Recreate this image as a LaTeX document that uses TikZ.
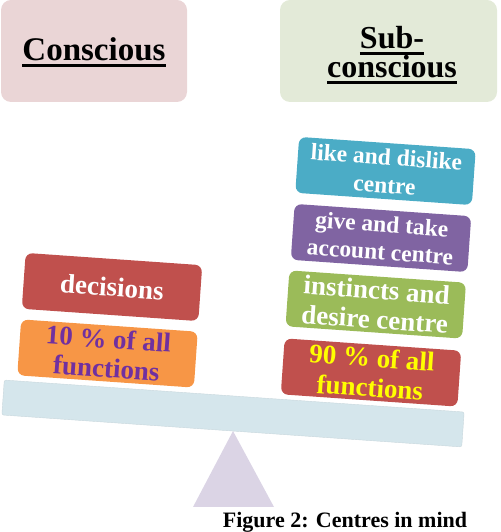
\documentclass[tikz,border=0pt]{standalone}
\usepackage{fontspec}
\setmainfont{Liberation Serif}
\definecolor{conscfill}{HTML}{EAD5D6}
\definecolor{subfill}{HTML}{E3EAD8}
\definecolor{beamfill}{HTML}{D5E6EC}
\definecolor{trifill}{HTML}{DBD4E5}
\definecolor{redbox}{HTML}{C0504D}
\definecolor{orangebox}{HTML}{F79646}
\definecolor{bluebox}{HTML}{4BACC6}
\definecolor{purplebox}{HTML}{8064A2}
\definecolor{greenbox}{HTML}{9BBB59}
\definecolor{purpletext}{HTML}{7030A0}
\definecolor{yellowtext}{HTML}{FFFF00}
\newcommand\myul[1]{\setbox0\hbox{#1}\rlap{\raisebox{-6.5pt}{\rule{\wd0}{3pt}}}\box0}
\tikzset{
  headbox/.style={rounded corners=10pt, inner sep=0pt, minimum height=102pt, align=center, text=black},
  centrebox/.style={rounded corners=7pt, inner sep=0pt, minimum width=177pt, minimum height=56pt,
    rotate=-4, align=center, text=white},
  beamstyle/.style={fill=beamfill, draw=beamfill!85!gray, line width=0.4pt, rounded corners=2pt,
    inner sep=0pt, minimum width=461pt, minimum height=35pt, rotate=-3.98},
}
\begin{document}
\begin{tikzpicture}[x=1pt,y=1pt]
\useasboundingbox (0,0) rectangle (500,532);
% fulcrum
\fill[trifill] (233,101) -- (193,25) -- (274,25) -- cycle;
% beam
\node[beamstyle] (beam) at (233,118.5) {};
% headers
\node[headbox, fill=conscfill, minimum width=186pt] (conscious) at (94,481) {};
\node[font=\bfseries\fontsize{33}{30}\selectfont, inner sep=0pt] (consctext) at (94,480) {\myul{Conscious}};
\node[headbox, fill=subfill, minimum width=217pt] (subconscious) at (388.5,481) {};
\node[font=\bfseries\fontsize{32}{29}\selectfont, inner sep=0pt, align=center] (subtext) at (392,477) {\myul{Sub-}\\\myul{conscious}};
% left pan
\node[centrebox, fill=redbox, font=\bfseries\fontsize{27}{29}\selectfont] (decisions) at (112,245) {decisions};
\node[centrebox, fill=orangebox, text=purpletext, font=\bfseries\fontsize{27}{29.5}\selectfont] (ten) at (107.5,178.5) {10 \% of all\\functions};
% right pan
\node[centrebox, fill=bluebox, font=\bfseries\fontsize{23.5}{28}\selectfont] (like) at (385.5,361) {like and dislike\\centre};
\node[centrebox, fill=purplebox, font=\bfseries\fontsize{23.5}{27.5}\selectfont] (give) at (381,294) {give and take\\account centre};
\node[centrebox, fill=greenbox, font=\bfseries\fontsize{27}{29.5}\selectfont] (instincts) at (375.75,227.5) {instincts and\\desire centre};
\node[centrebox, fill=redbox, text=yellowtext, font=\bfseries\fontsize{27}{30}\selectfont] (ninety) at (371,159.5) {90 \% of all\\functions};
% caption
\node[anchor=base, font=\bfseries\fontsize{22}{24}\selectfont, inner sep=0pt] (caption) at (345,5) {Figure 2: Centres in mind};
\end{tikzpicture}
\end{document}
